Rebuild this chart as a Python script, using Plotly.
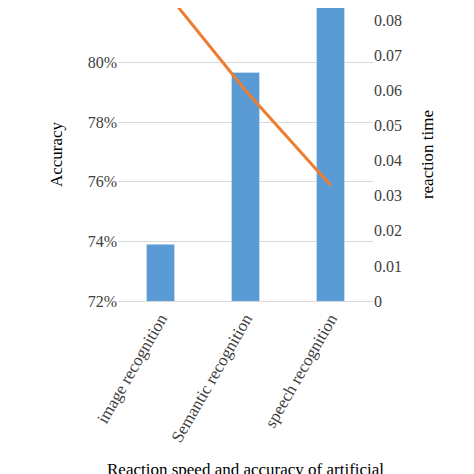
import plotly.graph_objects as go

categories = ['image recognition', 'Semantic recognition', 'speech recognition']
accuracy = [0.7390, 0.7967, 0.830]
reaction_time = [0.090, 0.060, 0.033]

font = 'Liberation Serif'
fig = go.Figure()
fig.add_trace(go.Bar(x=categories, y=accuracy, marker_color='#5b9bd5', width=0.33))
fig.add_trace(go.Scatter(x=categories, y=reaction_time, yaxis='y2', mode='lines',
                         line=dict(color='#ed7d31', width=3)))

fig.update_layout(
    width=474, height=474, showlegend=False,
    margin=dict(l=110, r=109, t=0, b=181),
    paper_bgcolor='white', plot_bgcolor='white',
    font=dict(family=font, size=16, color='#404040'),
    xaxis=dict(tickangle=-60, showline=True, linecolor='#d9d9d9', tickfont=dict(size=17),
               automargin=False),
    yaxis=dict(range=[0.72, 0.8183], tickvals=[0.72, 0.74, 0.76, 0.78, 0.80, 0.82],
               tickformat='.0%', showgrid=True, gridcolor='#d9d9d9', zeroline=False,
               automargin=False,
               title=dict(text='Accuracy', font=dict(size=17, color='#000'), standoff=20)),
    yaxis2=dict(overlaying='y', side='right', range=[0, 0.0835], dtick=0.01,
                tickformat='~g', showgrid=False, zeroline=False, automargin=False,
                title=dict(text='reaction time', font=dict(size=17, color='#000'), standoff=20)),
    annotations=[dict(text='Reaction speed and accuracy of artificial', xref='paper', yref='paper',
                      x=0.5, y=-0.575, yanchor='middle', showarrow=False,
                      font=dict(size=17, color='#000'))],
)
fig.write_html('out.html')
